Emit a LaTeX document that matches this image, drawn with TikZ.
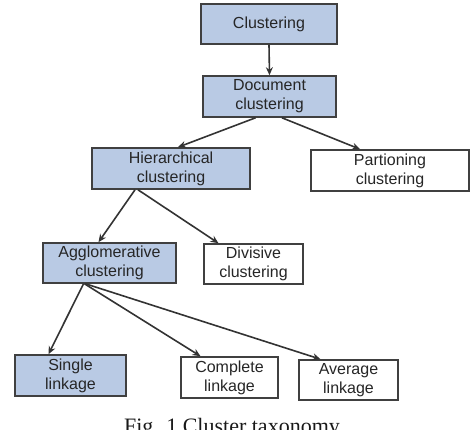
\documentclass[tikz,border=0pt]{standalone}
\usepackage{fontspec}
\setmainfont{Liberation Sans}
\newfontfamily\capfont{Liberation Serif}
\usetikzlibrary{arrows.meta}

\definecolor{boxblue}{RGB}{185,202,228}
\definecolor{boxline}{RGB}{64,64,64}

\begin{document}
\begin{tikzpicture}[x=1pt,y=-1pt,
    box/.style={draw=boxline, line width=1.6pt, rectangle, align=center,
        inner sep=0pt, text=black!85, font=\fontsize{16}{19}\selectfont},
    bluebox/.style={box, fill=boxblue},
    whitebox/.style={box, fill=white},
    link/.style={draw=black!80, line width=1.6pt, -{Stealth[length=8pt,width=7pt]}}]

\useasboundingbox (0,0) rectangle (474,429);

%top
\node[bluebox, minimum width=136pt, minimum height=40pt] (clus) at (269,24) {Clustering};
\node[bluebox, minimum width=133pt, minimum height=41pt] (doc) at (269.5,96.5) {Document\\clustering};

%second level
\node[bluebox, minimum width=158pt, minimum height=41pt] (hier) at (171,168.5) {Hierarchical\\clustering};
\node[whitebox, minimum width=158pt, minimum height=41pt] (part) at (390,170.5) {Partioning\\clustering};

%third level
\node[bluebox, minimum width=133pt, minimum height=40pt] (agg) at (109.5,263) {Agglomerative\\clustering};
\node[whitebox, minimum width=99pt, minimum height=40pt] (div) at (253.5,264) {Divisive\\clustering};

%linkage
\node[bluebox, minimum width=111pt, minimum height=41pt] (single) at (70.5,375.5) {Single\\linkage};
\node[whitebox, minimum width=97pt, minimum height=41pt] (complete) at (229.5,377.5) {Complete\\linkage};
\node[whitebox, minimum width=99pt, minimum height=40pt] (average) at (348.5,380) {Average\\linkage};

%arrows
\draw[link] (clus.south) -- (doc.north);
\draw[link] ([xshift=-14pt]doc.south) -- ([xshift=7pt]hier.north);
\draw[link] ([xshift=12.5pt]doc.south) -- ([xshift=-30pt]part.north);
\draw[link] ([xshift=-36pt]hier.south) -- ([xshift=-11pt]agg.north);
\draw[link] ([xshift=-33pt]hier.south) -- ([xshift=-35pt]div.north);
\draw[link] ([xshift=-26pt]agg.south) -- ([xshift=-22pt]single.north);
\draw[link] ([xshift=-25pt]agg.south) -- ([xshift=-29pt]complete.north);
\draw[link] ([xshift=-24pt]agg.south) -- ([xshift=-28pt]average.north);

%caption
\node[anchor=base, inner sep=0pt, text=black!90, font=\capfont\fontsize{22}{26}\selectfont] (cap) at (232,433) {Fig. 1 Cluster taxonomy};

\end{tikzpicture}
\end{document}
